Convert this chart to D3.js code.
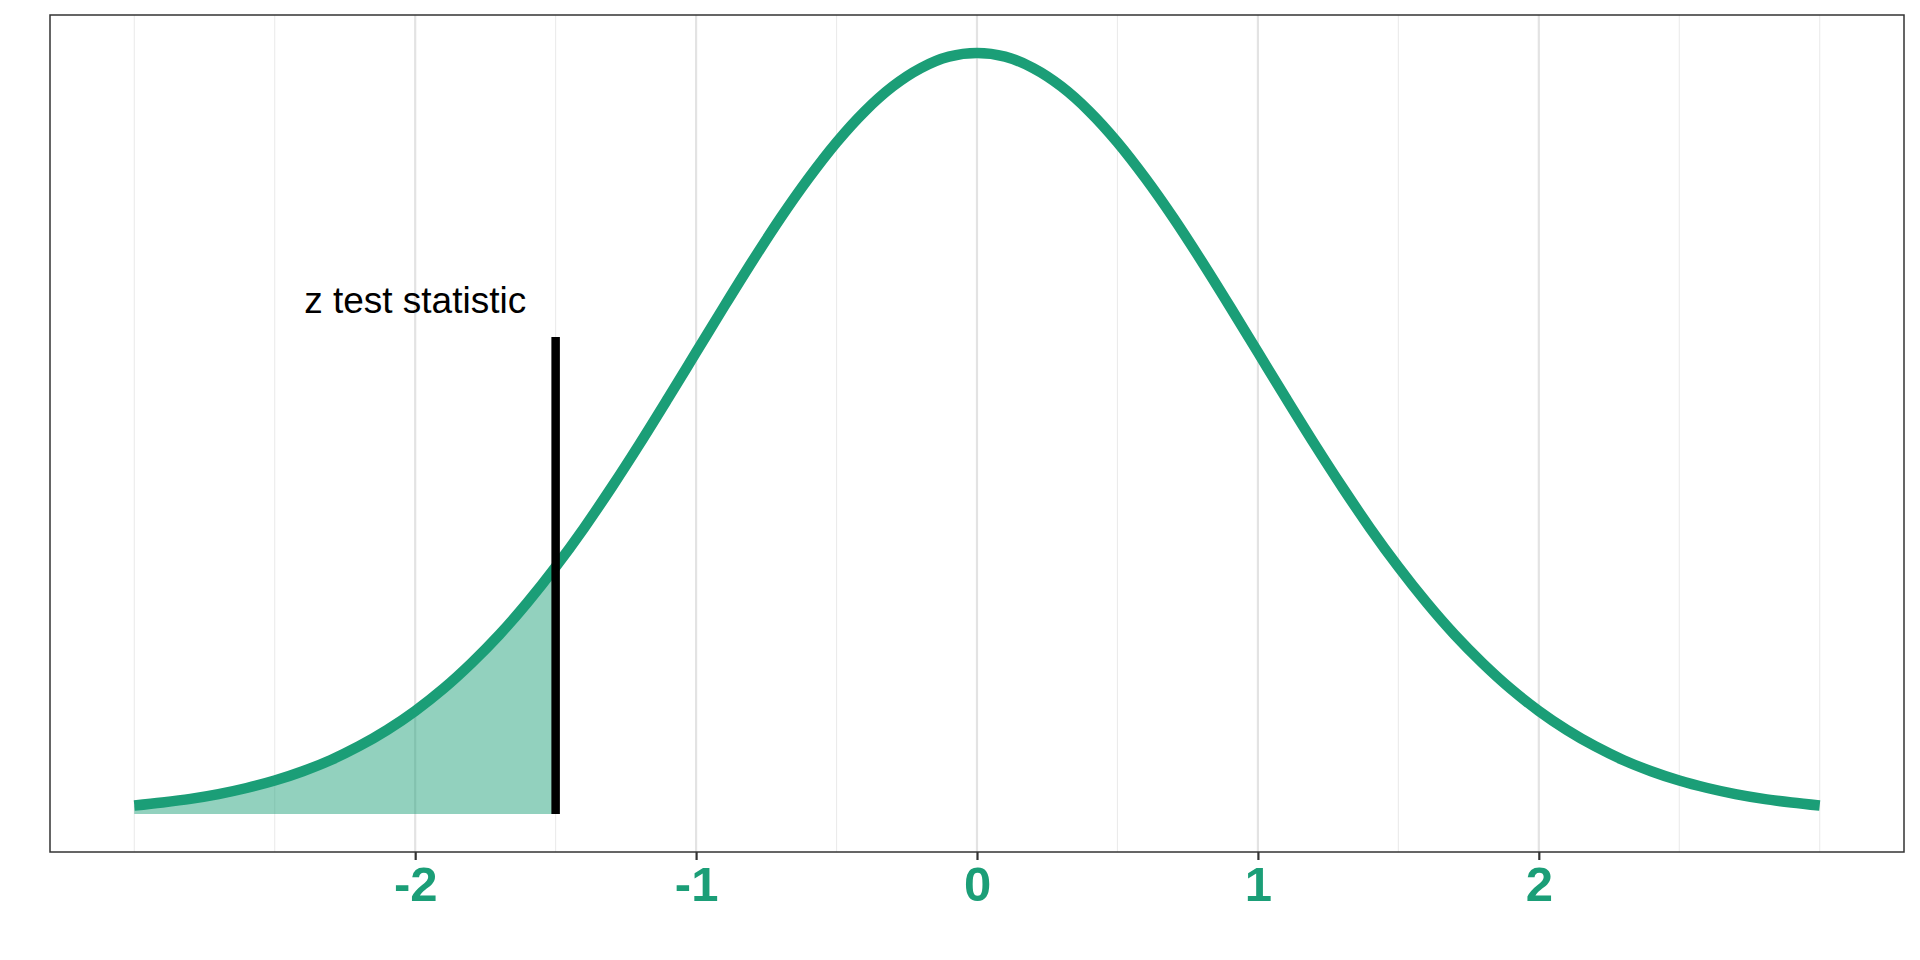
<!DOCTYPE html>
<html>
<head>
<meta charset="utf-8">
<script src="https://cdn.jsdelivr.net/npm/d3@7"></script>
<style>
  html, body { margin: 0; padding: 0; background: #ffffff; }
  svg { display: block; }
</style>
</head>
<body>
<svg id="chart" width="1920" height="960"></svg>
<script>
// ---- data ----
const zValues = [
  -3.0, -2.9, -2.8, -2.7, -2.6, -2.5, -2.4, -2.3, -2.2, -2.1,
  -2.0, -1.9, -1.8, -1.7, -1.6, -1.5, -1.4, -1.3, -1.2, -1.1,
  -1.0, -0.9, -0.8, -0.7, -0.6, -0.5, -0.4, -0.3, -0.2, -0.1,
   0.0,  0.1,  0.2,  0.3,  0.4,  0.5,  0.6,  0.7,  0.8,  0.9,
   1.0,  1.1,  1.2,  1.3,  1.4,  1.5,  1.6,  1.7,  1.8,  1.9,
   2.0,  2.1,  2.2,  2.3,  2.4,  2.5,  2.6,  2.7,  2.8,  2.9, 3.0
];
const densityValues = [
  0.0044, 0.0060, 0.0079, 0.0104, 0.0136, 0.0175, 0.0224, 0.0283, 0.0355, 0.0440,
  0.0540, 0.0656, 0.0790, 0.0940, 0.1109, 0.1295, 0.1497, 0.1714, 0.1942, 0.2179,
  0.2420, 0.2661, 0.2897, 0.3123, 0.3332, 0.3521, 0.3683, 0.3814, 0.3910, 0.3970,
  0.3989, 0.3970, 0.3910, 0.3814, 0.3683, 0.3521, 0.3332, 0.3123, 0.2897, 0.2661,
  0.2420, 0.2179, 0.1942, 0.1714, 0.1497, 0.1295, 0.1109, 0.0940, 0.0790, 0.0656,
  0.0540, 0.0440, 0.0355, 0.0283, 0.0224, 0.0175, 0.0136, 0.0104, 0.0079, 0.0060, 0.0044
];
const testStatistic = -1.5;
const statLineTop = 0.25;
const labelText = "z test statistic";
const labelX = -2.0;
const labelY = 0.2625;
const majorTicks = [-2, -1, 0, 1, 2];
const tickLabels = ["-2", "-1", "0", "1", "2"];
const minorGrid = [-3, -2.5, -1.5, -0.5, 0.5, 1.5, 2.5, 3];

// ---- layout ----
const panel = { left: 50, right: 1904, top: 15, bottom: 852 };
const green = "#1b9e77";

const svg = d3.select("#chart");

const x = d3.scaleLinear().domain([-3.3, 3.3]).range([panel.left, panel.right]);
const y = d3.scaleLinear().domain([-0.01995, 0.41885]).range([panel.bottom, panel.top]);

const data = zValues.map((z, i) => ({ z: z, d: densityValues[i] }));

// gridlines
const g = svg.append("g");
g.selectAll("line.minor").data(minorGrid).enter().append("line")
  .attr("class", "minor")
  .attr("x1", d => x(d)).attr("x2", d => x(d))
  .attr("y1", panel.top).attr("y2", panel.bottom)
  .attr("stroke", "#ebebeb").attr("stroke-width", 1.1);
g.selectAll("line.major").data(majorTicks).enter().append("line")
  .attr("class", "major")
  .attr("x1", d => x(d)).attr("x2", d => x(d))
  .attr("y1", panel.top).attr("y2", panel.bottom)
  .attr("stroke", "#e3e3e3").attr("stroke-width", 2.2);

// shaded tail area
const tail = data.filter(p => p.z <= testStatistic + 1e-9);
svg.append("path")
  .datum(tail)
  .attr("d", d3.area().x(p => x(p.z)).y0(y(0)).y1(p => y(p.d)).curve(d3.curveMonotoneX))
  .attr("fill", green).attr("fill-opacity", 0.48);

// density curve
svg.append("path")
  .datum(data)
  .attr("d", d3.line().x(p => x(p.z)).y(p => y(p.d)).curve(d3.curveMonotoneX))
  .attr("fill", "none").attr("stroke", green).attr("stroke-width", 10.5);

// test statistic segment
svg.append("line")
  .attr("x1", x(testStatistic)).attr("x2", x(testStatistic))
  .attr("y1", y(0)).attr("y2", y(statLineTop))
  .attr("stroke", "#000000").attr("stroke-width", 8.5);

// annotation
svg.append("text")
  .attr("x", x(labelX)).attr("y", y(labelY))
  .attr("text-anchor", "middle")
  .attr("font-family", "Liberation Sans, Arial, Helvetica, sans-serif")
  .attr("font-size", 37)
  .attr("fill", "#000000")
  .text(labelText);

// panel border
svg.append("rect")
  .attr("x", panel.left).attr("y", panel.top)
  .attr("width", panel.right - panel.left).attr("height", panel.bottom - panel.top)
  .attr("fill", "none").attr("stroke", "#333333").attr("stroke-width", 1.5);

// x axis
const axis = d3.axisBottom(x)
  .tickValues(majorTicks)
  .tickFormat((d, i) => tickLabels[i])
  .tickSize(8).tickSizeOuter(0).tickPadding(6);
const ax = svg.append("g").attr("transform", `translate(0,${panel.bottom})`).call(axis);
ax.select(".domain").remove();
ax.selectAll(".tick line").attr("stroke", "#333333").attr("stroke-width", 2.2);
ax.selectAll(".tick text")
  .attr("fill", green)
  .attr("font-family", "Liberation Sans, Arial, Helvetica, sans-serif")
  .attr("font-weight", "bold")
  .attr("font-size", 49)
  .attr("dy", null)
  .attr("y", 49);
</script>
</body>
</html>
